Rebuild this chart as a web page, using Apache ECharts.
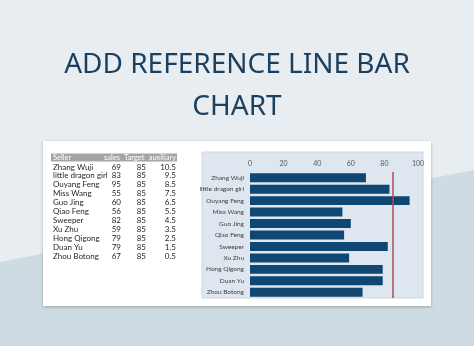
<!DOCTYPE html>
<html lang="en">

<head>
    <meta charset="UTF-8">
    <title>Add Reference Line Bar Chart</title>
    <script src="https://cdn.jsdelivr.net/npm/echarts@6/dist/echarts.min.js"></script>
    <style>
        html, body { margin: 0; padding: 0; }
    </style>
</head>

<body>
    <div id="main" style="width: 474px;height: 346px;"></div>
    <script>
        var sellers = ["Zhang Wuji", "little dragon girl", "Ouyang Feng", "Miss Wang", "Guo Jing",
            "Qiao Feng", "Sweeper", "Xu Zhu", "Hong Qigong", "Duan Yu", "Zhou Botong"];
        var sales = [69, 83, 95, 55, 60, 56, 82, 59, 79, 79, 67];
        var target = [85, 85, 85, 85, 85, 85, 85, 85, 85, 85, 85];
        var auxiliary = [10.5, 9.5, 8.5, 7.5, 6.5, 5.5, 4.5, 3.5, 2.5, 1.5, 0.5];
        var headers = ["Seller", "sales", "Target", "auxiliary"];
        var xTicks = [0, 20, 40, 60, 80, 100];

        var myChart = echarts.init(document.getElementById("main"));

        // left side table, drawn as text
        var tableFont = '8px Lato';
        var headFont = '7.5px Lato';
        var rowTop = 167, rowStep = 8.9;
        var table = [
            { type: 'rect', shape: { x: 51, y: 153.5, width: 126, height: 8 }, style: { fill: '#a5a5a5' } },
            { type: 'text', x: 53, y: 157.5, style: { text: headers[0], font: headFont, fill: '#fff', verticalAlign: 'middle' } },
            { type: 'text', x: 120, y: 157.5, style: { text: headers[1], font: headFont, fill: '#fff', align: 'right', verticalAlign: 'middle' } },
            { type: 'text', x: 124, y: 157.5, style: { text: headers[2], font: headFont, fill: '#fff', verticalAlign: 'middle' } },
            { type: 'text', x: 176, y: 157.5, style: { text: headers[3], font: headFont, fill: '#fff', align: 'right', verticalAlign: 'middle' } }
        ];
        sellers.forEach(function (name, i) {
            var y = rowTop + i * rowStep;
            table.push({ type: 'text', x: 53, y: y, style: { text: name, font: tableFont, fill: '#262626', verticalAlign: 'middle' } });
            table.push({ type: 'text', x: 121, y: y, style: { text: String(sales[i]), font: tableFont, fill: '#262626', align: 'right', verticalAlign: 'middle' } });
            table.push({ type: 'text', x: 146, y: y, style: { text: String(target[i]), font: tableFont, fill: '#262626', align: 'right', verticalAlign: 'middle' } });
            table.push({ type: 'text', x: 176, y: y, style: { text: String(auxiliary[i]), font: tableFont, fill: '#262626', align: 'right', verticalAlign: 'middle' } });
        });

        var option = {
            animation: false,
            backgroundColor: '#e7edf1',
            graphic: [
                // lower darker background band
                { type: 'polygon', z: -10, shape: { points: [[0, 262], [474, 170], [474, 346], [0, 346]] }, style: { fill: '#cfdbe2' } },
                // card
                { type: 'rect', z: -9, shape: { x: 43, y: 141, width: 388, height: 165 }, style: { fill: '#ffffff', shadowBlur: 3, shadowColor: 'rgba(0,0,0,0.25)', shadowOffsetY: 1 } },
                // chart area
                { type: 'rect', z: -8, shape: { x: 202, y: 152, width: 221, height: 146 }, style: { fill: '#dee6f0', stroke: '#cdd7e2', lineWidth: 1 } },
                // title
                { type: 'text', x: 237, y: 65, style: { text: 'ADD REFERENCE LINE BAR', font: '28px "Noto Sans"', fill: '#1b3f5e', align: 'center', verticalAlign: 'middle' } },
                { type: 'text', x: 237, y: 107, style: { text: 'CHART', font: '28px "Noto Sans"', fill: '#1b3f5e', align: 'center', verticalAlign: 'middle' } }
            ].concat(table),
            grid: { left: 250, right: 56, top: 172, bottom: 48 },
            xAxis: {
                type: 'value',
                position: 'top',
                min: 0,
                max: 100,
                interval: 20,
                axisLine: { show: false },
                axisTick: { show: false },
                splitLine: { show: false },
                axisLabel: {
                    fontSize: 7, fontFamily: 'Lato', color: '#595959', margin: 5,
                    customValues: xTicks
                }
            },
            yAxis: {
                type: 'category',
                inverse: true,
                data: sellers,
                axisLine: { show: false },
                axisTick: { show: false },
                axisLabel: { fontSize: 6.5, fontFamily: 'Lato', color: '#404040', margin: 6 }
            },
            series: [
                {
                    type: 'bar',
                    data: sales,
                    barCategoryGap: '22%',
                    itemStyle: { color: '#0f4672' },
                    markLine: {
                        silent: true,
                        symbol: 'none',
                        label: { show: false },
                        lineStyle: { color: '#b34a55', width: 1.5, type: 'solid' },
                        data: [{ xAxis: target[0] }]
                    }
                }
            ]
        };
        myChart.setOption(option);
    </script>
</body>

</html>
